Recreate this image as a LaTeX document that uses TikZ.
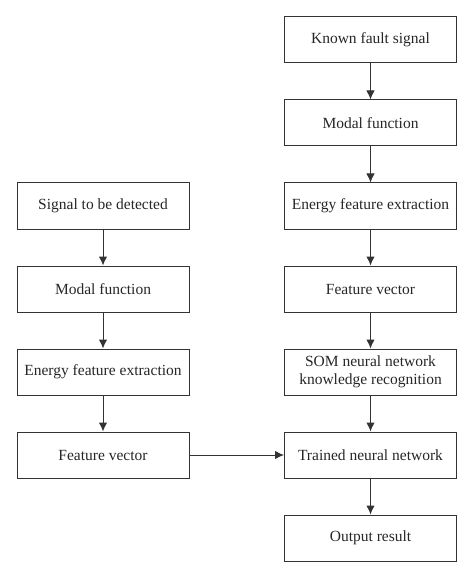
\documentclass[tikz,border=0pt]{standalone}
\usepackage{fontspec}
\setmainfont{Liberation Serif}
\usetikzlibrary{arrows.meta}

\begin{document}
\begin{tikzpicture}[->,>={Latex[length=9pt,width=8.5pt]},x=1pt,y=1pt,node distance=83pt,line width=1pt,draw=black!80,
		block/.style={rectangle,draw=black!80,minimum width=172pt,minimum height=46pt,align=center,
			font=\fontsize{15.5}{18.5}\selectfont,text=black!85}]
		\useasboundingbox (0,0) rectangle (474,-577);
		% right column
		\node[block]         (Known)   at (370.5,-40)    {Known fault signal};
		\node[block]         (ModR)    [below of=Known]  {Modal function};
		\node[block]         (EnR)     [below of=ModR]   {Energy feature extraction};
		\node[block]         (VecR)    [below of=EnR]    {Feature vector};
		\node[block]         (SOM)     [below of=VecR]   {SOM neural network\\knowledge recognition};
		\node[block]         (Trained) [below of=SOM]    {Trained neural network};
		\node[block]         (Out)     [below of=Trained] {Output result};
		% left column
		\node[block]         (Sig)     at (103,-206)     {Signal to be detected};
		\node[block]         (ModL)    [below of=Sig]    {Modal function};
		\node[block]         (EnL)     [below of=ModL]   {Energy feature extraction};
		\node[block]         (VecL)    [below of=EnL]    {Feature vector};
		\path (Known)   edge (ModR)
		      (ModR)    edge (EnR)
		      (EnR)     edge (VecR)
		      (VecR)    edge (SOM)
		      (SOM)     edge (Trained)
		      (Trained) edge (Out)
		      (Sig)     edge (ModL)
		      (ModL)    edge (EnL)
		      (EnL)     edge (VecL)
		      (VecL)    edge (Trained);
\end{tikzpicture}
\end{document}
